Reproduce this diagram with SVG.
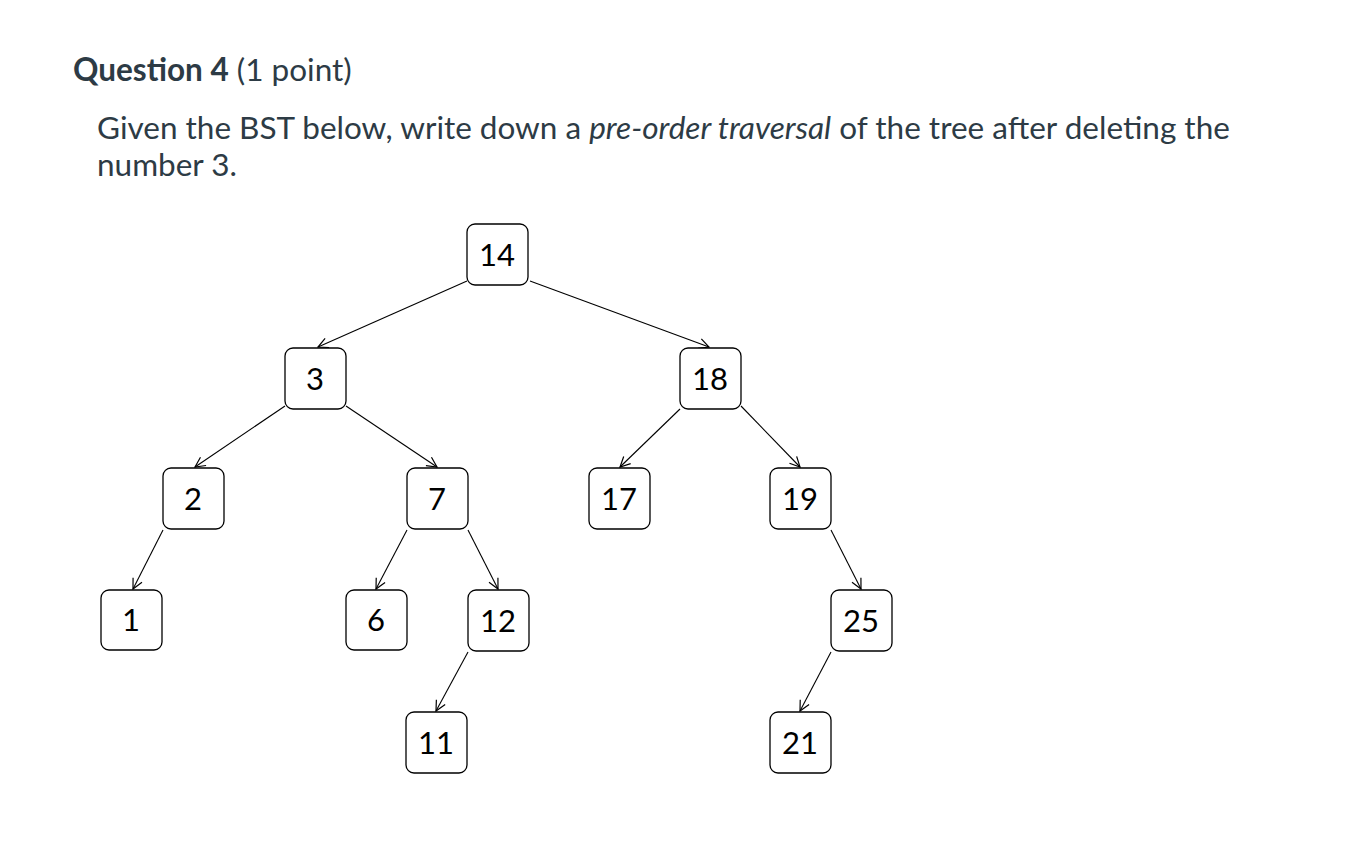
<svg xmlns="http://www.w3.org/2000/svg" width="1346" height="846" viewBox="0 0 1346 846">
<style>
.t{font-family:Lato,"Open Sans",sans-serif;fill:#2d3b45;font-size:31.5px}
.n rect{fill:#fff;stroke:#000;stroke-width:1.3}
.n text{font-family:Lato,"Open Sans",sans-serif;font-size:31px;fill:#000;text-anchor:middle}
#edges line{stroke:#000;stroke-width:1.1;marker-end:url(#a)}
</style>
<defs><marker id="a" viewBox="0 0 12 12" refX="11" refY="6" markerWidth="12" markerHeight="12" markerUnits="userSpaceOnUse" orient="auto"><path d="M1,1 L11,6 L1,11" fill="none" stroke="#000" stroke-width="1.2"/></marker></defs>
<rect width="1346" height="846" fill="#fff"/>
<text class="t" x="73" y="81"><tspan font-weight="bold">Question 4</tspan> (1 point)</text>
<text class="t" x="97" y="139">Given the BST below, write down a <tspan font-style="italic">pre-order traversal</tspan> of the tree after deleting the</text>
<text class="t" x="97" y="176">number 3.</text>
<g id="edges">
<line x1="467" y1="281" x2="318" y2="347"/>
<line x1="530" y1="281" x2="709" y2="347"/>
<line x1="285" y1="406" x2="195" y2="467"/>
<line x1="346" y1="406" x2="437" y2="467"/>
<line x1="680" y1="409" x2="620" y2="467"/>
<line x1="741" y1="406" x2="800" y2="467"/>
<line x1="163" y1="530" x2="133" y2="589"/>
<line x1="407" y1="530" x2="376" y2="589"/>
<line x1="468" y1="530" x2="498" y2="589"/>
<line x1="831" y1="530" x2="861" y2="589"/>
<line x1="468" y1="652" x2="436" y2="711"/>
<line x1="831" y1="652" x2="800" y2="711"/>
</g>
<g id="n14" class="n"><rect x="467" y="224" width="61" height="61" rx="8"/><text x="497" y="266">14</text></g>
<g id="n3" class="n"><rect x="285" y="348" width="61" height="61" rx="8"/><text x="315" y="390">3</text></g>
<g id="n18" class="n"><rect x="680" y="348" width="61" height="61" rx="8"/><text x="710" y="390">18</text></g>
<g id="n2" class="n"><rect x="163" y="468" width="61" height="61" rx="8"/><text x="193" y="510">2</text></g>
<g id="n7" class="n"><rect x="407" y="468" width="61" height="61" rx="8"/><text x="437" y="510">7</text></g>
<g id="n17" class="n"><rect x="589" y="468" width="61" height="61" rx="8"/><text x="619" y="510">17</text></g>
<g id="n19" class="n"><rect x="770" y="468" width="61" height="61" rx="8"/><text x="800" y="510">19</text></g>
<g id="n1" class="n"><rect x="101" y="590" width="61" height="60" rx="8"/><text x="131" y="631">1</text></g>
<g id="n6" class="n"><rect x="346" y="590" width="61" height="60" rx="8"/><text x="376" y="631">6</text></g>
<g id="n12" class="n"><rect x="468" y="590" width="61" height="61" rx="8"/><text x="498" y="632">12</text></g>
<g id="n25" class="n"><rect x="831" y="590" width="61" height="61" rx="8"/><text x="861" y="632">25</text></g>
<g id="n11" class="n"><rect x="406" y="712" width="61" height="61" rx="8"/><text x="436" y="754">11</text></g>
<g id="n21" class="n"><rect x="770" y="712" width="61" height="61" rx="8"/><text x="800" y="754">21</text></g>
</svg>
